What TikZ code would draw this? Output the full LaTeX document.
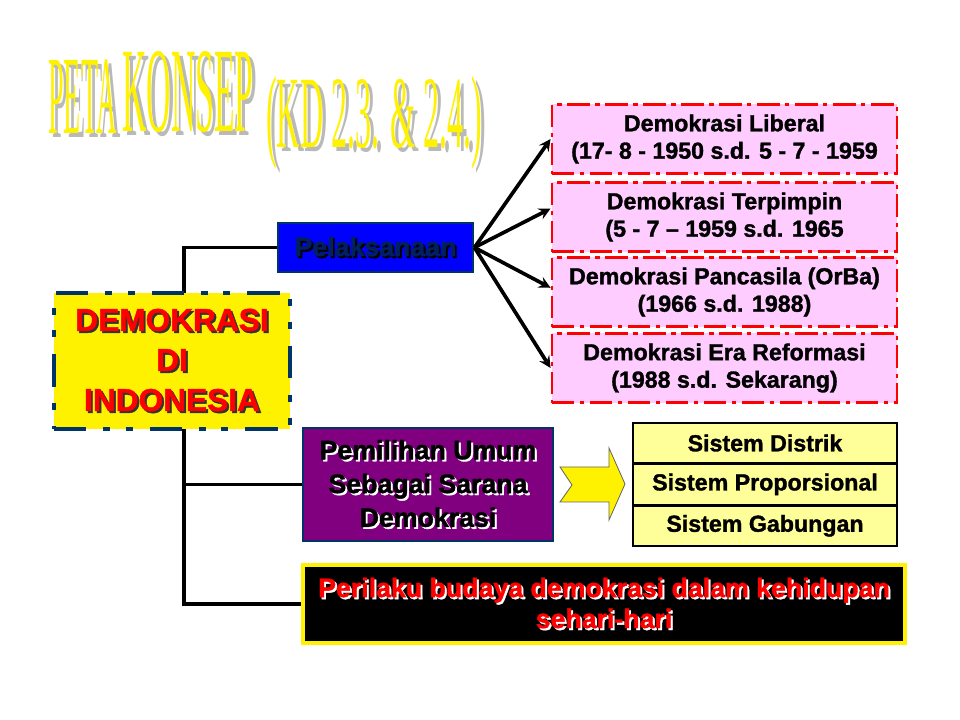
\documentclass[tikz,border=0pt]{standalone}
\usepackage{fontspec}
\setmainfont{Liberation Sans}[BoldFeatures={FakeBold=1.4}]
\newfontfamily\wordart{Liberation Serif}
\usepackage{tikz}
\usetikzlibrary{shapes.geometric, arrows, positioning}

\definecolor{navy}{RGB}{0,51,102}
\definecolor{textnavy}{RGB}{0,32,96}
\definecolor{pinkbox}{RGB}{255,204,255}
\definecolor{paleyellow}{RGB}{255,255,153}
\definecolor{ungu}{RGB}{128,0,128}

\newcommand{\shd}[2]{\makebox[0pt][l]{\hspace{1.4pt}\raisebox{-1.4pt}{\textcolor{#1}{#2}}}#2}
\newcommand{\wa}[3]{\makebox[0pt][l]{\hspace{3pt}\raisebox{-2.2pt}{\scalebox{#1}[#2]{\textcolor{gray!55}{#3}}}}\scalebox{#1}[#2]{#3}}

\tikzstyle{judul} = [anchor=base west, inner sep=0pt, text=yellow, font=\wordart\fontsize{20}{20}\selectfont]
\tikzstyle{pusat} = [rectangle, minimum width=5.9cm, minimum height=3.4cm, fill=yellow, draw=navy, line width=3.5pt, dash pattern=on 23pt off 12pt on 5pt off 11pt on 5pt off 12pt, text=red, align=center, font=\bfseries\fontsize{22.5}{28.5}\selectfont]
\tikzstyle{biru} = [rectangle, minimum width=4.875cm, minimum height=1.225cm, fill=blue, draw=navy, line width=2pt, text=textnavy, font=\bfseries\fontsize{19}{23}\selectfont]
\tikzstyle{periode} = [rectangle, minimum width=8.625cm, minimum height=1.725cm, fill=pinkbox, draw=red, line width=2pt, dash pattern=on 16pt off 4pt on 3pt off 4pt, align=center, font=\bfseries\fontsize{16.5}{19.5}\selectfont]
\tikzstyle{ungubox} = [rectangle, minimum width=6.25cm, minimum height=2.825cm, fill=ungu, draw=navy, line width=2pt, align=center, font=\bfseries\fontsize{19}{24}\selectfont]
\tikzstyle{sistem} = [rectangle, minimum width=6.6cm, minimum height=1cm, fill=paleyellow, draw=black, line width=1pt, font=\bfseries\fontsize{16.5}{19}\selectfont]
\tikzstyle{hitam} = [rectangle, minimum width=15.05cm, minimum height=1.95cm, fill=black, draw=yellow, line width=3pt, text=red, align=center, font=\bfseries\fontsize{19}{22}\selectfont]
\tikzstyle{arrow} = [line width=2.6pt, ->, >=stealth]
\tikzstyle{garis} = [line width=2.2pt]

\begin{document}
\begin{tikzpicture}[x=0.025cm, y=-0.025cm]
\useasboundingbox[fill=white] (0,0) rectangle (960,720);

% judul
\node (peta) [judul] at (48,134) {\wa{1}{3.97}{PETA}};
\node (konsep) [judul] at (122,132) {\wa{1.2}{4.3}{KONSEP}};
\node (kd) [judul] at (266,148) {\wa{1.14}{3.65}{(KD 2.3. \& 2.4.)}};

\node (pel) [biru] at (375.5,247.5) {\shd{black}{Pelaksanaan}};
\node (lib) [periode] at (724.5,139) {Demokrasi Liberal\\(17- 8 - 1950 s.d. 5 - 7 - 1959};
\node (terp) [periode] at (724.5,217) {Demokrasi Terpimpin\\(5 - 7 – 1959 s.d. 1965};
\node (panc) [periode] at (724.5,292) {Demokrasi Pancasila (OrBa)\\(1966 s.d. 1988)};
\node (refo) [periode] at (724.5,368) {Demokrasi Era Reformasi\\(1988 s.d. Sekarang)};

\node (pemilu) [ungubox] at (428,484.5) {\shd{white}{Pemilihan Umum}\\\shd{white}{Sebagai Sarana}\\\shd{white}{Demokrasi}};
\node (distrik) [sistem] at (765,443) {Sistem Distrik};
\node (propor) [sistem, below=0pt of distrik] {Sistem Proporsional};
\node (gabung) [sistem, below=0pt of propor] {Sistem Gabungan};

\node (budaya) [hitam] at (604,604) {\shd{white}{Perilaku budaya demokrasi dalam kehidupan}\\\shd{white}{sehari-hari}};

% garis pohon
\coordinate (sumbu) at (184,0);
\draw [garis] (pel.west) -| (sumbu |- budaya.west) -- (budaya.west);
\draw [garis] (pemilu.west) -- (sumbu |- pemilu.west);

\draw [arrow] (pel.east) -- (lib.west);
\draw [arrow] (pel.east) -- ([yshift=6pt]terp.west);
\draw [arrow] (pel.east) -- ([yshift=3pt]panc.west);
\draw [arrow] (pel.east) -- (refo.west);

% panah kuning
\draw [fill=yellow, draw=black!60, line width=0.6pt] (560,467) -- (609,467) -- (609,448) -- (625,484) -- (609,520) -- (609,502) -- (560,502) -- (572,485) -- cycle;

\node (demo) [pusat] at (172,361) {\shd{black!80}{DEMOKRASI}\\\shd{black!80}{DI}\\\shd{black!80}{INDONESIA}};
\end{tikzpicture}
\end{document}
